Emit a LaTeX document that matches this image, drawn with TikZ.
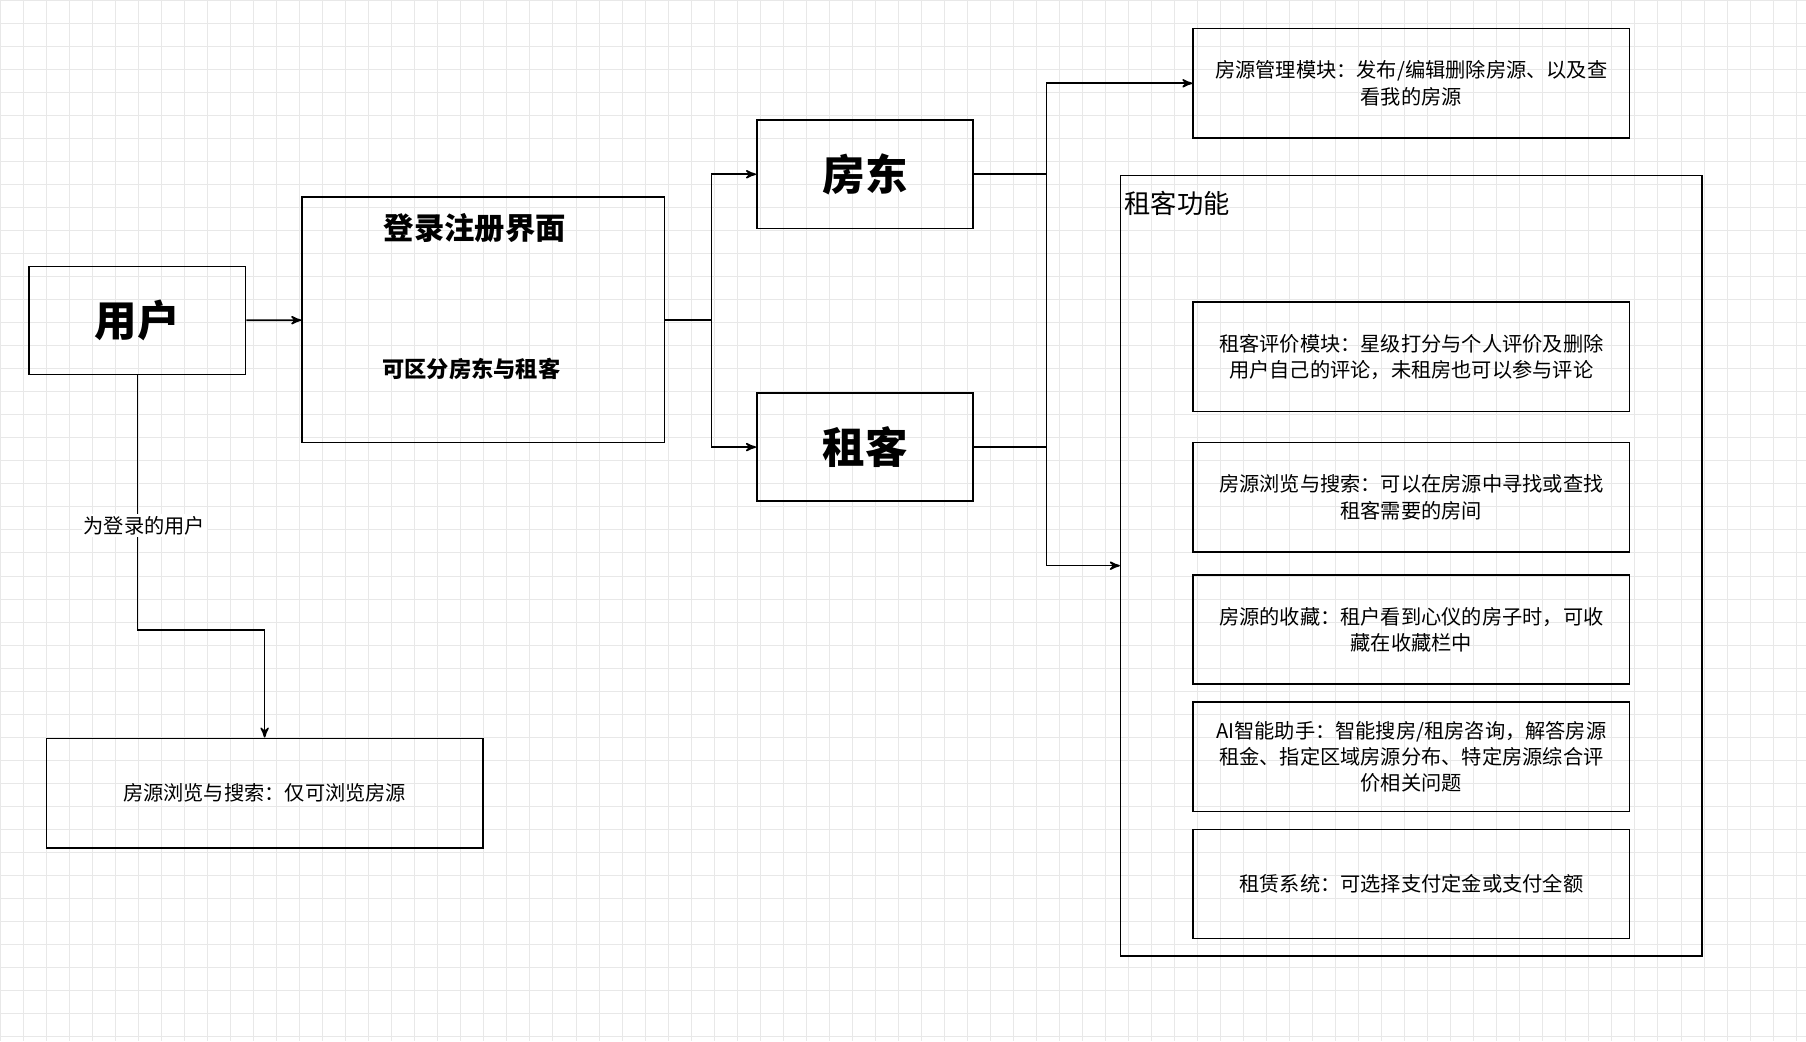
\documentclass[tikz,border=0pt]{standalone}
\usepackage{fontspec}
\setmainfont{Noto Sans CJK SC}
\usetikzlibrary{arrows, positioning}

\begin{document}
\begin{tikzpicture}[x=0.02cm,y=-0.02cm,->,>=stealth',thick,
    box/.style={draw, thick, rectangle, minimum width=3.76cm, minimum height=1.88cm},
    big/.style={box, font=\fontsize{21}{24}\selectfont\bfseries},
    feat/.style={draw, thick, rectangle, minimum width=7.58cm, minimum height=1.9cm,
        align=center, font=\fontsize{10}{13}\selectfont}]
    % background grid
    \fill[white] (0,0) rectangle (1568,904);
    \draw[-, black!9, thin, step=0.4cm] (0,0) grid (1568,904);
    \useasboundingbox (0,0) rectangle (1568,904);

    \node[big] (user) at (119,278) {用户};
    \node[draw, thick, minimum width=6.3cm, minimum height=4.26cm] (login) at (419.5,277.5) {};
    \node[font=\fontsize{15}{18}\selectfont\bfseries] (logint) at (412,198) {登录注册界面};
    \node[font=\fontsize{11}{13}\selectfont\bfseries] (logins) at (409,320) {可区分房东与租客};
    \node[big] (landlord) at (751,151) {房东};
    \node[big] (tenant) at (751,388) {租客};
    \node[feat] (manage) at (1225.5,72) {房源管理模块：发布/编辑删除房源、以及查\\看我的房源};
    \node[draw, thick, minimum width=10.1cm, minimum height=13.56cm] (func) at (1225.5,491) {};
    \node[anchor=west, font=\fontsize{13}{15}\selectfont] (funct) at (970,176) {租客功能};
    \node[feat] (review) at (1225.5,309.5) {租客评价模块：星级打分与个人评价及删除\\用户自己的评论，未租房也可以参与评论};
    \node[feat] (search) at (1225.5,431.5) {房源浏览与搜索：可以在房源中寻找或查找\\租客需要的房间};
    \node[feat] (fav) at (1225.5,546.5) {房源的收藏：租户看到心仪的房子时，可收\\藏在收藏栏中};
    \node[feat] (ai) at (1225.5,657) {AI智能助手：智能搜房/租房咨询，解答房源\\租金、指定区域房源分布、特定房源综合评\\价相关问题};
    \node[feat] (rent) at (1225.5,767.5) {租赁系统：可选择支付定金或支付全额};
    \node[feat] (guest) at (229.5,688.5) {房源浏览与搜索：仅可浏览房源};

    \draw (user) -- (login);
    \draw (login.east) -- ++(40,0) |- (landlord);
    \draw (login.east) -- ++(40,0) |- (tenant);
    \draw (landlord.east) -- ++(63,0) |- (manage);
    \draw (landlord.east) -- ++(63,0) |- (func.west);
    \draw[-] (tenant.east) -- ++(63,0);
    \draw (user.south) -- ++(0,221) -| (guest.north);
    \node[font=\fontsize{10}{12}\selectfont, fill=white, inner sep=1pt] (guestl) at (125,456) {为登录的用户};
\end{tikzpicture}
\end{document}
